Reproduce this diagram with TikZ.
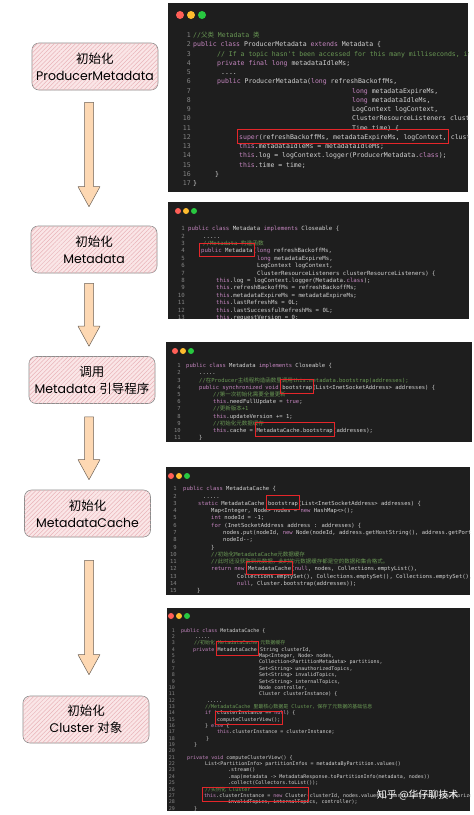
\documentclass[tikz,border=0pt]{standalone}
\usepackage{fontspec}
\setmainfont{Poppins}
\newfontfamily\cjk{Noto Sans CJK SC}
\newfontfamily\codefont{DejaVu Sans Mono}
\usetikzlibrary{calc,patterns.meta}

\definecolor{boxfill}{HTML}{FAE6E7}
\definecolor{boxhatch}{HTML}{E9B3B8}
\definecolor{boxline}{HTML}{8C8C8C}
\definecolor{arrowfill}{HTML}{FDD8B3}
\definecolor{arrowline}{HTML}{6E6257}
\definecolor{codebg}{HTML}{1E1E1E}
\definecolor{codefg}{HTML}{D4D4D4}
\definecolor{codekw}{HTML}{C586C0}
\definecolor{codecm}{HTML}{6A9955}
\definecolor{codenum}{HTML}{858585}
\definecolor{hlred}{HTML}{E5262A}
\definecolor{dotred}{HTML}{FF5F57}
\definecolor{dotyellow}{HTML}{FEBC2E}
\definecolor{dotgreen}{HTML}{28C840}

\tikzset{
  flowbox/.style={draw=boxline, line width=0.6pt, rounded corners=7pt,
    fill=boxfill,
    postaction={pattern color=boxhatch,
      pattern={Lines[angle=45,distance=3pt,line width=0.5pt]}},
    minimum width=126pt, minimum height=47pt, align=center,
    font=\fontsize{12.5}{17}\selectfont},
  flowarrow/.style={draw=arrowline, line width=0.5pt, fill=arrowfill, line join=round},
  code/.style={inner sep=0pt, anchor=mid west, text=codefg, font=\codefont\codesize,
    text height=1.5ex, text depth=.35ex},
  codenext/.style={code, anchor=base west},
  lnum/.style={inner sep=0pt, anchor=mid east, text=codenum, font=\codefont\codesize},
  hl/.style={draw=hlred, line width=0.8pt},
  panel/.style={fill=codebg},
}

% token colours
\newcommand{\kwd}[1]{\textcolor{codekw}{#1}}
\newcommand{\cmt}[1]{\textcolor{codecm}{#1}}
% one numbered line of code: number, x, text
\newcommand{\codeln}[3]{%
  \node[lnum] (\pn n#1) at (\lnx,{\ytop+(#1-1)*\ystep}) {#1};
  \node[code] (\pn l#1) at (#2,{\ytop+(#1-1)*\ystep}) {#3};}
\newcommand{\codeafter}[3]{\node[codenext] (#1) at (#2.base east) {#3};}
\newcommand{\csp}{\ \mbox{}}
\newcommand{\hlbox}[1]{%
  \draw[hl] ([shift={(-1.5pt,-1.5pt)}]#1.south west) rectangle ([shift={(1.5pt,1.5pt)}]#1.north east);}
\newcommand{\winbtns}[4]{% x, y, step, radius
  \fill[dotred] (#1,#2) circle[radius=#4pt];
  \fill[dotyellow] (#1+#3,#2) circle[radius=#4pt];
  \fill[dotgreen] (#1+2*#3,#2) circle[radius=#4pt];}
\newcommand{\blockarrow}[2]{%
  \draw[flowarrow] ($(#1)+(-4.5,0)$) -- ($(#2)+(-4.5,-20)$) -- ($(#2)+(-11,-20)$) -- (#2)
    -- ($(#2)+(11,-20)$) -- ($(#2)+(4.5,-20)$) -- ($(#1)+(4.5,0)$) -- cycle;}

\begin{document}
\begin{tikzpicture}[x=1pt,y=-1pt]
  \useasboundingbox[fill=white] (0,0) rectangle (474,815);

  % steps on the left
  \node[flowbox] (b1) at (95,66.5) {{\cjk 初始化}\\ProducerMetadata};
  \node[flowbox] (b2) at (94,249.5) {{\cjk 初始化}\\Metadata};
  \node[flowbox] (b3) at (92,380) {{\cjk 调用}\\Metadata {\cjk 引导程序}};
  \node[flowbox] (b4) at (87.5,513.5) {{\cjk 初始化}\\MetadataCache};
  \node[flowbox] (b5) at (86,719.5) {{\cjk 初始化}\\Cluster {\cjk 对象}};

  \coordinate (ax) at (89,0);
  \coordinate (a1s) at ($(b1.south -| ax)+(0,12)$);
  \coordinate (a1e) at ($(b2.north -| ax)+(0,-19)$);
  \coordinate (a2s) at ($(b2.south -| ax)+(0,10)$);
  \coordinate (a2e) at ($(b3.north -| ax)+(0,-10)$);
  \coordinate (a3s) at ($(b3.south -| ax)+(0,13)$);
  \coordinate (a3e) at ($(b4.north -| ax)+(0,-10)$);
  \coordinate (a4s) at ($(b4.south -| ax)+(0,23)$);
  \coordinate (a4e) at ($(b5.north -| ax)+(0,-21)$);
  \blockarrow{a1s}{a1e}
  \blockarrow{a2s}{a2e}
  \blockarrow{a3s}{a3e}
  \blockarrow{a4s}{a4e}

  % ProducerMetadata
  \begin{scope}
    \def\pn{p1}\def\lnx{191}\def\ytop{35}\def\ystep{9.25}
    \def\codesize{\fontsize{6.5}{8}\selectfont}
    \clip (168,3) rectangle (468,192);
    \fill[panel] (168,3) rectangle (468,192);
    \winbtns{180}{15}{11}{4}
    \codeln{1}{193}{\cmt{//{\cjk 父类} Metadata {\cjk 类}}}
    \codeln{2}{193}{\kwd{public class} ProducerMetadata \kwd{extends} Metadata \{}
    \codeln{3}{217}{\cmt{// If a topic hasn't been accessed for this many milliseconds, it is removed}}
    \codeln{4}{217}{\kwd{private final long} metadataIdleMs;}
    \codeln{5}{221}{....}
    \codeln{6}{217}{\kwd{public} ProducerMetadata(\kwd{long} refreshBackoffMs,}
    \codeln{7}{352}{\kwd{long} metadataExpireMs,}
    \codeln{8}{352}{\kwd{long} metadataIdleMs,}
    \codeln{9}{352}{LogContext logContext,}
    \codeln{10}{352}{ClusterResourceListeners clusterResourceListeners,}
    \codeln{11}{352}{Time time) \{}
    \codeln{12}{239}{\kwd{super}(refreshBackoffMs, metadataExpireMs, logContext,}
    \codeafter{p1r12}{p1l12}{\ clusterResourceListeners);}
    \codeln{13}{239}{\kwd{this}.metadataIdleMs = metadataIdleMs;}
    \codeln{14}{239}{\kwd{this}.log = logContext.logger(ProducerMetadata.\kwd{class});}
    \codeln{15}{239}{\kwd{this}.time = time;}
    \codeln{16}{215}{\}}
    \codeln{17}{193}{\}}
    \hlbox{p1l12}
  \end{scope}

  % Metadata constructor
  \begin{scope}
    \def\pn{p2}\def\lnx{185}\def\ytop{228}\def\ystep{7.4}
    \def\codesize{\fontsize{5.7}{7}\selectfont}
    \clip (168,202) rectangle (469,319);
    \fill[panel] (168,202) rectangle (469,319);
    \winbtns{178}{211}{8}{3}
    \codeln{1}{188}{\kwd{public class} Metadata \kwd{implements} Closeable \{}
    \codeln{2}{203}{.....}
    \codeln{3}{203}{\cmt{//Metadata {\cjk 构造函数}}}
    \codeln{4}{201}{\kwd{public} Metadata}
    \codeafter{p2r4}{p2l4}{(\kwd{long} refreshBackoffMs,}
    \codeln{5}{257}{\kwd{long} metadataExpireMs,}
    \codeln{6}{257}{LogContext logContext,}
    \codeln{7}{257}{ClusterResourceListeners clusterResourceListeners) \{}
    \codeln{8}{216}{\kwd{this}.log = logContext.logger(Metadata.\kwd{class});}
    \codeln{9}{216}{\kwd{this}.refreshBackoffMs = refreshBackoffMs;}
    \codeln{10}{216}{\kwd{this}.metadataExpireMs = metadataExpireMs;}
    \codeln{11}{216}{\kwd{this}.lastRefreshMs = 0L;}
    \codeln{12}{216}{\kwd{this}.lastSuccessfulRefreshMs = 0L;}
    \codeln{13}{216}{\kwd{this}.requestVersion = 0;}
    \hlbox{p2l4}
  \end{scope}

  % Metadata.bootstrap
  \begin{scope}
    \def\pn{p3}\def\lnx{181}\def\ytop{365}\def\ystep{7.2}
    \def\codesize{\fontsize{5.5}{7}\selectfont}
    \clip (166,342) rectangle (472,442);
    \fill[panel] (166,342) rectangle (472,442);
    \winbtns{175}{351}{8}{3}
    \codeln{1}{186}{\kwd{public class} Metadata \kwd{implements} Closeable \{}
    \codeln{2}{199}{.....}
    \codeln{3}{199}{\cmt{//{\cjk 在}Producer{\cjk 主线程构造函数里调用}this.metadata.bootstrap(addresses);}}
    \codeln{4}{199}{\kwd{public synchronized void}\csp}
    \codeafter{p3h4}{p3l4}{bootstrap}
    \codeafter{p3r4}{p3h4}{(List<InetSocketAddress> addresses) \{}
    \codeln{5}{213}{\cmt{//{\cjk 第一次初始化需要全量更新}}}
    \codeln{6}{213}{\kwd{this}.needFullUpdate = \kwd{true};}
    \codeln{7}{213}{\cmt{//{\cjk 更新版本}+1}}
    \codeln{8}{213}{\kwd{this}.updateVersion += 1;}
    \codeln{9}{213}{\cmt{//{\cjk 初始化元数据缓存}}}
    \codeln{10}{213}{\kwd{this}.cache =\csp}
    \codeafter{p3h10}{p3l10}{MetadataCache.bootstrap}
    \codeafter{p3r10}{p3h10}{(addresses);}
    \codeln{11}{199}{\}}
    \hlbox{p3h4}
    \hlbox{p3h10}
  \end{scope}

  % MetadataCache.bootstrap
  \begin{scope}
    \def\pn{p4}\def\lnx{177}\def\ytop{488}\def\ystep{7.29}
    \def\codesize{\fontsize{5.5}{7}\selectfont}
    \clip (166,467) rectangle (470,595);
    \fill[panel] (166,467) rectangle (470,595);
    \winbtns{171}{476}{8}{3}
    \codeln{1}{183}{\kwd{public class} MetadataCache \{}
    \codeln{2}{203}{.....}
    \codeln{3}{198}{\kwd{static} MetadataCache\csp}
    \codeafter{p4h3}{p4l3}{bootstrap}
    \codeafter{p4r3}{p4h3}{(List<InetSocketAddress> addresses) \{}
    \codeln{4}{211}{Map<Integer, Node> nodes = \kwd{new} HashMap<>();}
    \codeln{5}{211}{\kwd{int} nodeId = -1;}
    \codeln{6}{211}{\kwd{for} (InetSocketAddress address : addresses) \{}
    \codeln{7}{223}{nodes.put(nodeId, \kwd{new} Node(nodeId, address.getHostString(), address.getPort()));}
    \codeln{8}{223}{nodeId-{}-;}
    \codeln{9}{211}{\}}
    \codeln{10}{211}{\cmt{//{\cjk 初始化}MetadataCache{\cjk 元数据缓存}}}
    \codeln{11}{211}{\cmt{//{\cjk 此时还没获取到元数据，此时的元数据缓存都是空的数据和集合格式。}}}
    \codeln{12}{211}{\kwd{return new}\csp}
    \codeafter{p4h12}{p4l12}{MetadataCache}
    \codeafter{p4r12}{p4h12}{(\kwd{null}, nodes, Collections.emptyList(),}
    \codeln{13}{237}{Collections.emptySet(), Collections.emptySet(), Collections.emptySet(),}
    \codeln{14}{237}{\kwd{null}, Cluster.bootstrap(addresses));}
    \codeln{15}{197}{\}}
    \hlbox{p4h3}
    \hlbox{p4h12}
  \end{scope}

  % MetadataCache constructor
  \begin{scope}
    \def\pn{p5}\def\lnx{175}\def\ytop{629.5}\def\ystep{6.35}
    \def\codesize{\fontsize{5}{6}\selectfont}
    \clip (167,608) rectangle (470,811);
    \fill[panel] (167,608) rectangle (470,811);
    \winbtns{171}{616}{8}{3}
    \codeln{1}{181}{\kwd{public class} MetadataCache \{}
    \codeln{2}{195}{.....}
    \codeln{3}{194}{\cmt{//{\cjk 初始化} MetadataCache {\cjk 元数据缓存}}}
    \codeln{4}{193}{\kwd{private}\csp}
    \codeafter{p5h4}{p5l4}{MetadataCache}
    \codeafter{p5r4}{p5h4}{(String clusterId,}
    \codeln{5}{259}{Map<Integer, Node> nodes,}
    \codeln{6}{259}{Collection<PartitionMetadata> partitions,}
    \codeln{7}{259}{Set<String> unauthorizedTopics,}
    \codeln{8}{259}{Set<String> invalidTopics,}
    \codeln{9}{259}{Set<String> internalTopics,}
    \codeln{10}{259}{Node controller,}
    \codeln{11}{259}{Cluster clusterInstance) \{}
    \codeln{12}{207}{.....}
    \codeln{13}{205}{\cmt{//MetadataCache {\cjk 里最核心数据是} Cluster{\cjk ，保存了元数据的基础信息}}}
    \codeln{14}{205}{\kwd{if} (clusterInstance == \kwd{null}) \{}
    \codeln{15}{217}{computeClusterView();}
    \codeln{16}{205}{\} \kwd{else} \{}
    \codeln{17}{217}{\kwd{this}.clusterInstance = clusterInstance;}
    \codeln{18}{206}{\}}
    \codeln{19}{194}{\}}
    \codeln{20}{194}{}
    \codeln{21}{187}{\kwd{private void} computeClusterView() \{}
    \codeln{22}{205}{List<PartitionInfo> partitionInfos = metadataByPartition.values()}
    \codeln{23}{228}{.stream()}
    \codeln{24}{228}{.map(metadata -> MetadataResponse.toPartitionInfo(metadata, nodes))}
    \codeln{25}{228}{.collect(Collectors.toList());}
    \codeln{26}{205}{\cmt{//{\cjk 实例化} Cluster}}
    \codeln{27}{204}{\kwd{this}.clusterInstance = \kwd{new} Cluster}
    \codeafter{p5r27}{p5l27}{(clusterId, nodes.values(), partitionInfos, unauthorizedTopics,}
    \codeln{28}{228}{invalidTopics, internalTopics, controller);}
    \codeln{29}{194}{\}}
    \hlbox{p5h4}
    \hlbox{p5l15}
    \hlbox{p5l27}
    \node[text=white, font=\cjk\fontsize{10}{12}\selectfont, anchor=east] (wm) at (462,795) {知乎 @华仔聊技术};
  \end{scope}
\end{tikzpicture}
\end{document}
